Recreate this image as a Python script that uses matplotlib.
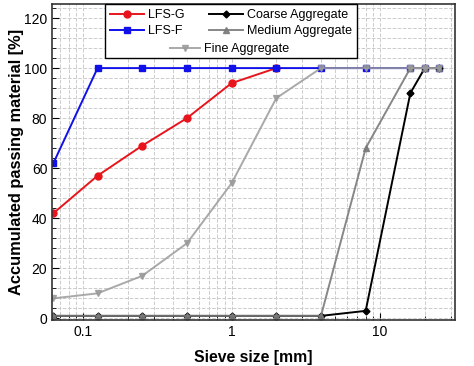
import matplotlib
matplotlib.use("Agg")
import matplotlib.pyplot as plt
from matplotlib.lines import Line2D
from matplotlib.ticker import MultipleLocator, FixedLocator, NullFormatter

plt.rcParams['font.family'] = ['Liberation Sans', 'DejaVu Sans']

# sieve sizes [mm]
sieve = [0.063, 0.125, 0.25, 0.5, 1, 2, 4, 8, 16, 20, 25]

# passing material [%]
lfs_g = [42, 57, 69, 80, 94, 100]
lfs_f = [62, 100, 100, 100, 100, 100, 100, 100, 100, 100, 100]
coarse = [1, 1, 1, 1, 1, 1, 1, 3, 90, 100, 100]
medium = [1, 1, 1, 1, 1, 1, 1, 68, 100, 100, 100]
fine = [8, 10, 17, 30, 54, 88, 100, 100, 100, 100, 100]

fig = plt.figure(figsize=(4.74, 3.66), dpi=100)
ax = fig.add_axes([0.110, 0.126, 0.850, 0.863])

l1, = ax.plot(sieve[:len(lfs_g)], lfs_g, c='#e8141c', marker='o', ms=5, lw=1.4, label='LFS-G')
l2, = ax.plot(sieve, lfs_f, c='#1010e8', marker='s', ms=5, lw=1.4, label='LFS-F')
l3, = ax.plot(sieve, coarse, c='black', marker='D', ms=3.5, lw=1.4, label='Coarse Aggregate')
l4, = ax.plot(sieve, medium, c='#7a7a7a', marker='^', ms=5, lw=1.4, alpha=0.9, label='Medium Aggregate')
l5, = ax.plot(sieve, fine, c='#9a9a9a', marker='v', ms=5, lw=1.4, alpha=0.85, label='Fine Aggregate')

ax.set_xscale('log')
ax.set_xlim(0.0618, 32)
ax.set_ylim(-0.6, 125.6)
ax.yaxis.set_major_locator(MultipleLocator(20))
ax.yaxis.set_minor_locator(MultipleLocator(4))
ax.xaxis.set_major_locator(FixedLocator([0.1, 1, 10]))
ax.set_xticklabels(['0.1', '1', '10'])
ax.xaxis.set_minor_formatter(NullFormatter())

ax.grid(True, which='both', ls='--', c='#cccccc', lw=0.7)
ax.set_axisbelow(True)
ax.tick_params(which='both', direction='in', labelsize=10, colors='black')
ax.tick_params(which='major', length=5)
ax.tick_params(which='minor', length=3)
for s in ax.spines.values():
    s.set_linewidth(1.2)
    s.set_color('#333333')

ax.set_xlabel('Sieve size [mm]', fontsize=11.3, fontweight='bold', labelpad=8)
ax.set_ylabel('Accumulated passing material [%]', fontsize=11.8, fontweight='bold')
ax.yaxis.set_label_coords(-0.069, 0.5)

# legend: two columns plus "Fine Aggregate" centred on a third row
blank = Line2D([], [], ls='none')
leg = ax.legend([l1, l2, blank, l3, l4, blank],
                ['LFS-G', 'LFS-F', ' ', 'Coarse Aggregate', 'Medium Aggregate', ' '],
                ncol=2, loc='upper center', bbox_to_anchor=(0.444, 1.0),
                fontsize=9, fancybox=False, framealpha=1, edgecolor='black',
                borderaxespad=0, handlelength=2.7, handletextpad=0.3,
                columnspacing=2.0, labelspacing=0.32, borderpad=0.4)
leg.get_frame().set_linewidth(1.0)
ax.add_artist(leg)
leg2 = ax.legend([l5], ['Fine Aggregate'], loc='center', bbox_to_anchor=(0.44, 0.857),
                 fontsize=9, frameon=False, handlelength=2.4, handletextpad=0.3,
                 borderpad=0, borderaxespad=0)
leg2.set_zorder(6)

fig.savefig('out.png', dpi=100)
